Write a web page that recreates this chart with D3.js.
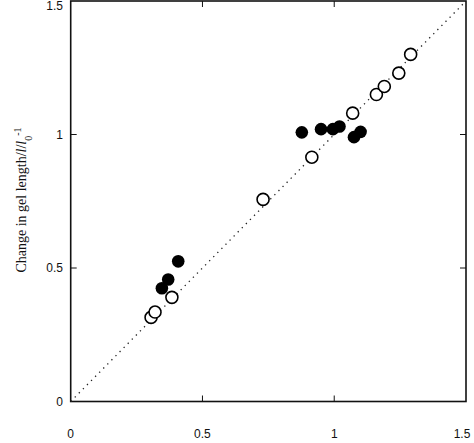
<!DOCTYPE html>
<meta charset="utf-8">
<style>
body { margin:0; background:#fff; }
svg text { font-family: "Liberation Sans", Arial, sans-serif; font-size:12px; fill:#111; }
</style>
<body>
<script src="https://cdn.jsdelivr.net/npm/d3@7"></script>
<script>
var openX = [0.305, 0.32, 0.384, 0.73, 0.915, 1.07, 1.16, 1.19, 1.245, 1.29];
var openY = [0.315, 0.335, 0.39, 0.757, 0.915, 1.08, 1.15, 1.18, 1.23, 1.30];
var fillX = [0.346, 0.37, 0.408, 0.877, 0.95, 0.995, 1.02, 1.075, 1.1];
var fillY = [0.424, 0.457, 0.525, 1.008, 1.02, 1.02, 1.03, 0.99, 1.01];
var tickVals = [0, 0.5, 1, 1.5];
var tickLabels = ["0", "0.5", "1", "1.5"];

var width = 474, height = 443;
var x = d3.scaleLinear().domain([0, 1.5]).range([70.7, 466]);
var y = d3.scaleLinear().domain([0, 1.5]).range([401.5, 1]);

var svg = d3.select("body").append("svg").attr("width", width).attr("height", height);

// frame
svg.append("rect").attr("x", x(0)).attr("y", y(1.5))
  .attr("width", x(1.5) - x(0)).attr("height", y(0) - y(1.5))
  .attr("fill", "none").attr("stroke", "#111").attr("stroke-width", 1.6);

// inward ticks
tickVals.slice(1, 3).forEach(function(t){
  svg.append("line").attr("x1", x(t)).attr("x2", x(t)).attr("y1", y(0)).attr("y2", y(0) - 6).attr("stroke", "#111");
  svg.append("line").attr("x1", x(t)).attr("x2", x(t)).attr("y1", y(1.5)).attr("y2", y(1.5) + 6).attr("stroke", "#111");
  svg.append("line").attr("y1", y(t)).attr("y2", y(t)).attr("x1", x(0)).attr("x2", x(0) + 6).attr("stroke", "#111");
  svg.append("line").attr("y1", y(t)).attr("y2", y(t)).attr("x1", x(1.5)).attr("x2", x(1.5) - 6).attr("stroke", "#111");
});

svg.selectAll(".xl").data(tickVals).enter().append("text")
  .attr("x", function(d){ return Math.min(x(d), 462); }).attr("y", 438)
  .attr("text-anchor", "middle").text(function(d, i){ return tickLabels[i]; });
svg.selectAll(".yl").data(tickVals).enter().append("text")
  .attr("x", 63).attr("y", function(d){ return Math.max(y(d) + 4, 10); })
  .attr("text-anchor", "end").text(function(d, i){ return tickLabels[i]; });

// diagonal y = x
svg.append("line").attr("x1", x(0)).attr("y1", y(0)).attr("x2", x(1.5)).attr("y2", y(1.5))
  .attr("stroke", "#222").attr("stroke-width", 1.3).attr("stroke-dasharray", "1.3,4.5");

svg.selectAll(".op").data(openX).enter().append("circle")
  .attr("cx", function(d){ return x(d); }).attr("cy", function(d, i){ return y(openY[i]); })
  .attr("r", 6).attr("fill", "#fff").attr("stroke", "#000").attr("stroke-width", 1.6);
svg.selectAll(".fp").data(fillX).enter().append("circle")
  .attr("cx", function(d){ return x(d); }).attr("cy", function(d, i){ return y(fillY[i]); })
  .attr("r", 6.3).attr("fill", "#000");

svg.append("text").attr("transform", "translate(26,200) rotate(-90)")
  .attr("text-anchor", "middle").style("font-family", "'Liberation Serif', serif").style("font-size", "14px")
  .html('Change in gel length/<tspan font-style="italic">l</tspan>/<tspan font-style="italic">l</tspan><tspan baseline-shift="sub" font-size="10">0</tspan><tspan baseline-shift="super" font-size="10">-1</tspan>');
</script>
